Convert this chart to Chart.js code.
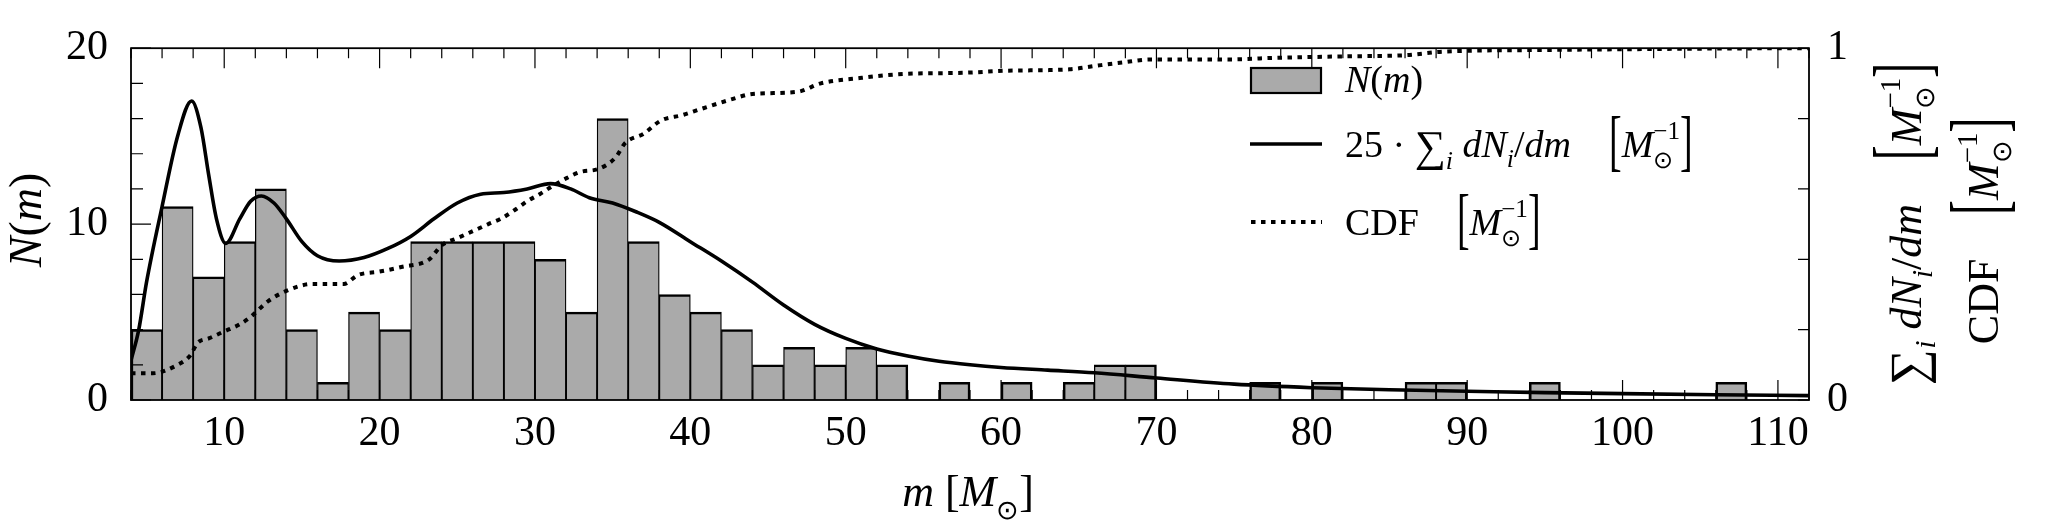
<!DOCTYPE html>
<html>
<head>
<meta charset="utf-8">
<script src="https://cdn.jsdelivr.net/npm/chart.js@4.4.0/dist/chart.umd.min.js"></script>
<style>
  html, body { margin: 0; padding: 0; background: #fff; }
  canvas { display: block; }
</style>
</head>
<body>
<canvas id="massChart" width="2048" height="532"></canvas>
<script>
// histogram: bins of 2 Msun from 4 to 112, given by their centres
const binCenters = [5, 7, 9, 11, 13, 15, 17, 19, 21, 23, 25, 27, 29, 31, 33, 35, 37, 39,
  41, 43, 45, 47, 49, 51, 53, 55, 57, 59, 61, 63, 65, 67, 69, 71, 73, 75, 77, 79, 81, 83,
  85, 87, 89, 91, 93, 95, 97, 99, 101, 103, 105, 107, 109, 111];
const binCounts = [4, 11, 7, 9, 12, 4, 1, 5, 4, 9, 9, 9, 9, 8, 5, 16, 9, 6,
  5, 4, 2, 3, 2, 3, 2, 0, 1, 0, 1, 0, 1, 2, 2, 0, 0, 0, 1, 0, 1, 0,
  0, 1, 1, 0, 0, 1, 0, 0, 0, 0, 0, 1, 0, 0];

// 25 * sum dN/dm, read against the right axis
const densityMass = [4, 4.5, 5, 6, 7, 7.9, 8.5, 9, 9.5, 10.1, 11, 11.7, 12.4, 13.2, 14, 15, 16,
  17.4, 19, 20.5, 22, 23.5, 25, 26.5, 28, 29.5, 31, 32.3, 33.5, 35, 36.5, 38, 40, 42, 44, 46,
  48, 50, 52, 54, 56, 58, 60, 63, 66, 70, 75, 80, 85, 90, 95, 100, 106, 112];
const densityValue = [0.112, 0.2, 0.335, 0.55, 0.75, 0.85, 0.775, 0.64, 0.515, 0.445, 0.515,
  0.565, 0.58, 0.56, 0.515, 0.45, 0.41, 0.395, 0.405, 0.43, 0.465, 0.515, 0.56, 0.585, 0.59,
  0.6, 0.615, 0.6, 0.575, 0.56, 0.535, 0.505, 0.45, 0.395, 0.335, 0.27, 0.215, 0.175, 0.145,
  0.125, 0.11, 0.1, 0.0925, 0.085, 0.0775, 0.0625, 0.045, 0.035, 0.029, 0.025, 0.021, 0.018,
  0.015, 0.0125];

const cdfMass = [4, 5.4, 7, 7.8, 8.3, 9, 10, 11, 11.7, 12.8, 14, 15.7, 17.7, 18.6, 20, 21.4,
  23.2, 24, 25, 26, 27, 27.8, 28.7, 29.5, 30.3, 31.2, 32, 32.9, 34.1, 35.2, 35.8, 37, 38.1,
  39.5, 40.6, 42.6, 44, 46.9, 48.4, 50.9, 53.8, 57.5, 60.4, 64.4, 66.1, 67.9, 69.6, 74.7,
  77.6, 82.4, 86, 88.4, 95, 100, 106, 112];
const cdfValue = [0.076, 0.076, 0.1, 0.126, 0.163, 0.175, 0.195, 0.215, 0.236, 0.28, 0.31,
  0.33, 0.33, 0.355, 0.365, 0.378, 0.4, 0.44, 0.46, 0.48, 0.5, 0.515, 0.54, 0.565, 0.585,
  0.61, 0.63, 0.648, 0.657, 0.69, 0.73, 0.757, 0.794, 0.81, 0.826, 0.854, 0.87, 0.876, 0.9,
  0.915, 0.927, 0.93, 0.936, 0.94, 0.95, 0.96, 0.968, 0.968, 0.9725, 0.977, 0.98, 0.99,
  0.995, 0.997, 0.999, 1.0];

const massTicks = [10, 20, 30, 40, 50, 60, 70, 80, 90, 100, 110];
const countTicks = [0, 10, 20];
const rightTicks = [0, 1];

const serif = '"Liberation Serif", "Times New Roman", serif';
const barGray = "#aaaaaa";

// math-ish labels as runs of text: it = italic, sc = size factor, dy = shift (em),
// stack = start at same x as previous run (sub + sup), vs = vertical stretch
const massUnitInv = [
  { t: "[", vs: 1.8, dy: 0.17 }, { t: "M", it: 1 }, { t: "\u2299", sc: 0.62, dy: 0.3 },
  { t: "\u22121", sc: 0.66, dy: -0.48, stack: 1 }, { t: "]", vs: 1.8, dy: 0.17 }
];
const sumLabel = [
  { t: "\u2211", sc: 1.15, dy: 0.1 }, { t: "i", it: 1, sc: 0.68, dy: 0.32 }, { t: " " },
  { t: "dN", it: 1 }, { t: "i", it: 1, sc: 0.68, dy: 0.25 }, { t: "/" }, { t: "dm", it: 1 },
  { t: "\u2002\u2002" }
].concat(massUnitInv);
const cdfLabel = [{ t: "CDF" }, { t: "\u2002\u2002" }].concat(massUnitInv);
const countLabel = [{ t: "N", it: 1 }, { t: "(" }, { t: "m", it: 1 }, { t: ")" }];
const xLabel = [{ t: "m", it: 1 }, { t: " [" }, { t: "M", it: 1 }, { t: "\u2299", sc: 0.62, dy: 0.3 }, { t: "]" }];

function richText(ctx, parts, x, y, size, draw) {
  let cx = x;
  let lastStart = x;
  for (const p of parts) {
    ctx.font = (p.it ? "italic " : "") + size * (p.sc || 1) + "px " + serif;
    const w = ctx.measureText(p.t).width;
    const px = p.stack ? lastStart : cx;
    if (draw) {
      const py = y + (p.dy || 0) * size;
      if (p.vs) {
        ctx.save();
        ctx.translate(px, py);
        ctx.scale(1, p.vs);
        ctx.fillText(p.t, 0, 0);
        ctx.restore();
      } else {
        ctx.fillText(p.t, px, py);
      }
    }
    if (p.stack) {
      cx = Math.max(cx, px + w);
    } else {
      lastStart = px;
      cx = px + w;
    }
  }
  return cx - x;
}

function rotatedText(ctx, parts, baseX, centerY, size) {
  const w = richText(ctx, parts, 0, 0, size, false);
  ctx.save();
  ctx.translate(baseX, centerY);
  ctx.rotate(-Math.PI / 2);
  richText(ctx, parts, -w / 2, 0, size, true);
  ctx.restore();
}

const frameAndTicks = {
  id: "frameAndTicks",
  afterDatasetsDraw(chart) {
    const { ctx, chartArea: a, scales } = chart;
    ctx.save();
    ctx.strokeStyle = "#000";
    ctx.lineWidth = 1.2;
    ctx.beginPath();
    for (let m = 4; m <= 112; m += 2) {
      const px = scales.x.getPixelForValue(m);
      const len = m % 10 === 0 ? 20 : 10;
      ctx.moveTo(px, a.bottom); ctx.lineTo(px, a.bottom - len);
      ctx.moveTo(px, a.top); ctx.lineTo(px, a.top + len);
    }
    for (let n = 0; n <= 20; n += 2) {
      const py = scales.y.getPixelForValue(n);
      const len = n % 10 === 0 ? 20 : 12;
      ctx.moveTo(a.left, py); ctx.lineTo(a.left + len, py);
    }
    for (let k = 0; k <= 5; k++) {
      const py = scales.y2.getPixelForValue(k * 0.2);
      ctx.moveTo(a.right, py); ctx.lineTo(a.right - 11, py);
    }
    ctx.stroke();
    ctx.lineWidth = 1.8;
    ctx.strokeRect(a.left, a.top, a.right - a.left, a.bottom - a.top);
    ctx.restore();
  },
  afterDraw(chart) {
    const ctx = chart.ctx;
    ctx.save();
    ctx.fillStyle = "#000";
    ctx.textBaseline = "alphabetic";

    // axis titles
    rotatedText(ctx, countLabel, 41, 220, 46);
    rotatedText(ctx, sumLabel, 1921, 224, 44);
    rotatedText(ctx, cdfLabel, 1998, 231, 44);
    const xw = richText(ctx, xLabel, 0, 0, 44, false);
    richText(ctx, xLabel, 968 - xw / 2, 506, 44, true);

    // legend
    ctx.fillStyle = barGray;
    ctx.fillRect(1251, 68, 70, 25);
    ctx.strokeStyle = "#000";
    ctx.lineWidth = 2.2;
    ctx.strokeRect(1251, 68, 70, 25);
    ctx.lineWidth = 3.5;
    ctx.beginPath();
    ctx.moveTo(1250, 144); ctx.lineTo(1322, 144);
    ctx.stroke();
    ctx.lineWidth = 4;
    ctx.setLineDash([4.5, 5.5]);
    ctx.beginPath();
    ctx.moveTo(1251, 222); ctx.lineTo(1322, 222);
    ctx.stroke();
    ctx.setLineDash([]);
    ctx.fillStyle = "#000";
    richText(ctx, countLabel, 1345, 92, 38, true);
    richText(ctx, [{ t: "25 \u00b7 " }].concat(sumLabel), 1345, 157, 38, true);
    richText(ctx, cdfLabel, 1345, 235, 38, true);
    ctx.restore();
  }
};

function barBorder(c) {
  const i = c.dataIndex;
  if (!binCounts[i]) return 0;
  const prev = binCounts[i - 1] || 0;
  const next = binCounts[i + 1] || 0;
  return { top: 2.5, bottom: 0, left: prev ? 1.3 : 2.5, right: next ? 1.3 : 2.5 };
}

document.addEventListener("DOMContentLoaded", function () {
  const ctx = document.getElementById("massChart").getContext("2d");
  const tickFont = { family: serif, size: 42 };

  new Chart(ctx, {
    data: {
      datasets: [
        {
          type: "line",
          label: "CDF",
          data: cdfMass.map((m, i) => ({ x: m, y: cdfValue[i] })),
          yAxisID: "y2",
          borderColor: "#000",
          borderWidth: 4,
          borderDash: [4.5, 5.5],
          pointRadius: 0,
          cubicInterpolationMode: "monotone",
          order: 0
        },
        {
          type: "line",
          label: "25 sum dN/dm",
          data: densityMass.map((m, i) => ({ x: m, y: densityValue[i] })),
          yAxisID: "y2",
          borderColor: "#000",
          borderWidth: 3.6,
          pointRadius: 0,
          cubicInterpolationMode: "monotone",
          order: 1
        },
        {
          type: "bar",
          label: "N(m)",
          data: binCenters.map((m, i) => ({ x: m, y: binCounts[i] })),
          yAxisID: "y",
          backgroundColor: barGray,
          borderColor: "#000",
          borderWidth: barBorder,
          borderSkipped: false,
          barPercentage: 1,
          categoryPercentage: 1,
          order: 2
        }
      ]
    },
    options: {
      responsive: false,
      animation: false,
      layout: { padding: { top: 35, left: 0, right: 0, bottom: 0 } },
      plugins: { legend: { display: false }, tooltip: { enabled: false } },
      scales: {
        x: {
          type: "linear",
          min: 4,
          max: 112,
          offset: false,
          grid: { display: false, drawTicks: false },
          border: { display: false },
          afterBuildTicks: s => { s.ticks = massTicks.map(v => ({ value: v })); },
          ticks: { font: tickFont, color: "#000", padding: 9, maxRotation: 0, autoSkip: false },
          afterFit: s => { s.height = 132; }
        },
        y: {
          position: "left",
          min: 0,
          max: 20,
          grid: { display: false, drawTicks: false },
          border: { display: false },
          afterBuildTicks: s => { s.ticks = countTicks.map(v => ({ value: v })); },
          ticks: { font: tickFont, color: "#000", padding: 23 },
          afterFit: s => { s.width = 131; }
        },
        y2: {
          position: "right",
          min: 0,
          max: 1,
          grid: { display: false, drawTicks: false },
          border: { display: false },
          afterBuildTicks: s => { s.ticks = rightTicks.map(v => ({ value: v })); },
          ticks: { font: tickFont, color: "#000", padding: 18 },
          afterFit: s => { s.width = 239; }
        }
      }
    },
    plugins: [frameAndTicks]
  });
});
</script>
</body>
</html>
